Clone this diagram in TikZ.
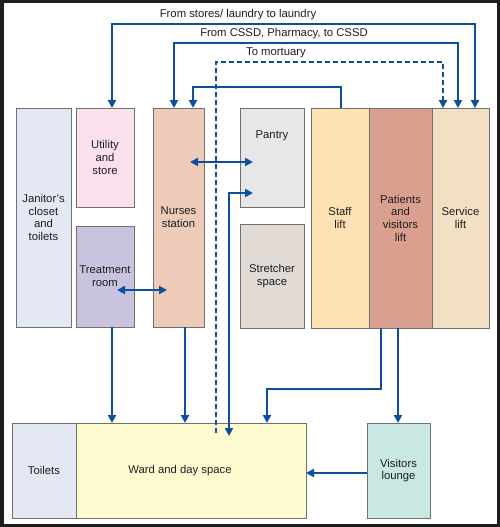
\documentclass[tikz,border=0pt]{standalone}
\usepackage{fontspec}
\setmainfont{Liberation Sans}
\usetikzlibrary{arrows.meta}
\definecolor{flow}{HTML}{0D4E9D}
\definecolor{edge}{HTML}{707070}
\definecolor{ink}{HTML}{1E1E1E}
\definecolor{cJan}{HTML}{E3E8F4}
\definecolor{cUtil}{HTML}{FCE0EE}
\definecolor{cTreat}{HTML}{C9C3E0}
\definecolor{cNurse}{HTML}{EECBB8}
\definecolor{cPantry}{HTML}{E7E7EA}
\definecolor{cStretch}{HTML}{E2DAD5}
\definecolor{cStaff}{HTML}{FDE3B3}
\definecolor{cPat}{HTML}{D9A08F}
\definecolor{cServ}{HTML}{F2E0C4}
\definecolor{cWard}{HTML}{FEFBD0}
\definecolor{cLounge}{HTML}{C9E8E4}
\begin{document}
\begin{tikzpicture}[x=1pt,y=-1pt,
  room/.style={draw=edge, line width=1pt, inner sep=0pt, outer sep=0pt, align=center,
    text=ink, font=\fontsize{11.3}{12.7}\selectfont},
  arr/.style={draw=flow, line width=2.7pt, -{Triangle[length=8pt,width=8pt]}},
  darr/.style={draw=flow, line width=2.7pt, {Triangle[length=8pt,width=8pt]}-{Triangle[length=8pt,width=8pt]}},
  lbl/.style={text=ink, font=\fontsize{11.3}{13}\selectfont, inner sep=0pt}]
\useasboundingbox (0,0) rectangle (500,527);
\fill[white] (0,0) rectangle (500,527);
\draw[line width=3.5pt, color=ink] (1.75,1.75) rectangle (498.25,525.25);

% rooms
\node[room, fill=cJan, minimum width=55, minimum height=219] (jan) at (43.5,217.5) {Janitor's\\closet\\and\\toilets};
\node[room, fill=cUtil, minimum width=58, minimum height=99] (util) at (105,157.5) {Utility\\and\\store};
\node[room, fill=cTreat, minimum width=58, minimum height=101] (treat) at (105,276.5) {Treatment\\room};
\node[room, fill=cNurse, minimum width=51, minimum height=219] (nurse) at (178.5,217.5) {Nurses\\station};
\node[room, fill=cPantry, minimum width=64, minimum height=99,
  label={[room, draw=none, anchor=north, yshift=-23pt]north:Pantry}] (pantry) at (272,157.5) {};
\node[room, fill=cStretch, minimum width=64, minimum height=104] (stretch) at (272,276) {Stretcher\\space};
\node[room, fill=cStaff, minimum width=58, minimum height=220] (staff) at (340,218) {Staff\\lift};
\node[room, fill=cPat, minimum width=63, minimum height=220] (pat) at (400.5,218) {Patients\\and\\visitors\\lift};
\node[room, fill=cServ, minimum width=57, minimum height=220] (serv) at (460.5,218) {Service\\lift};
\node[room, fill=cJan, minimum width=64, minimum height=95] (toil) at (44,470.5) {Toilets};
\node[room, fill=cWard, minimum width=230, minimum height=95,
  label={[room, draw=none, xshift=-11pt, yshift=0pt]center:Ward and day space}] (ward) at (191,470.5) {};
\node[room, fill=cLounge, minimum width=63, minimum height=95] (lounge) at (398.5,470.5) {Visitors\\lounge};

% free ends inside rooms
\coordinate (mortstart) at (216,433);
\coordinate (wardin) at (229,436);
\coordinate (nurseR) at (190,162);
\coordinate (pantryA) at (253,162);
\coordinate (pantryB) at (253,193);
\coordinate (treatR) at (117,290);
\coordinate (nurseL) at (167,290);

% top flows
\draw[darr] (475,0 |- serv.north) -- (475,24) -- (112,24) -- (112,0 |- util.north);
\node[lbl] (l1) at (238,15) {From stores/ laundry to laundry};
\draw[darr] (458,0 |- serv.north) -- (458,43) -- (174,43) -- (174,0 |- nurse.north);
\node[lbl] (l2) at (284,34) {From CSSD, Pharmacy, to CSSD};
\draw[arr, dash pattern=on 5pt off 3pt] (mortstart) -- (216,62) -- (443,62) -- (443,0 |- serv.north);
\node[lbl] (l3) at (276,53) {To mortuary};
\draw[arr] (341,0 |- staff.north) -- (341,87) -- (193,87) -- (193,0 |- nurse.north);

% internal flows
\draw[darr] (nurseR) -- (pantryA);
\draw[darr] (wardin) -- (229,193) -- (pantryB);
\draw[darr] (treatR) -- (nurseL);

% down to ward
\draw[arr] (112,0 |- treat.south) -- (112,0 |- ward.north);
\draw[arr] (185,0 |- nurse.south) -- (185,0 |- ward.north);
\draw[arr] (381,0 |- pat.south) -- (381,389) -- (267,389) -- (267,0 |- ward.north);
\draw[arr] (398,0 |- pat.south) -- (398,0 |- lounge.north);
\draw[arr] (lounge.west |- 0,473) -- (ward.east |- 0,473);
\end{tikzpicture}
\end{document}
